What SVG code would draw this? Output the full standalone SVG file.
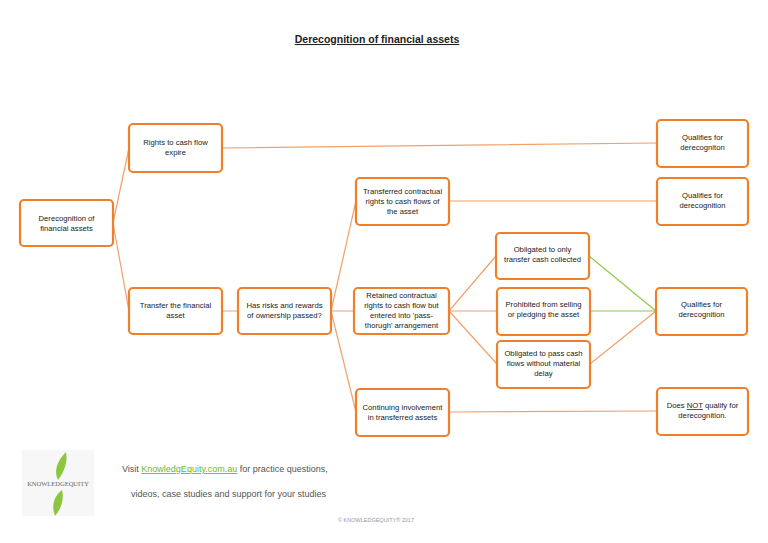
<svg xmlns="http://www.w3.org/2000/svg" width="768" height="543" viewBox="0 0 768 543">
<style>
.b{fill:#fff;stroke:#f07f2c;stroke-width:2.2}
.t{font-family:"Liberation Sans",Arial,sans-serif;font-size:7.7px;fill:#222;text-anchor:middle}
.c{fill:none;stroke:#f4a06a;stroke-width:1.2}
.g{fill:none;stroke:#8fca4c;stroke-width:1.2}
.f{font-family:"Liberation Sans",Arial,sans-serif;font-size:9px;fill:#555}
</style>
<rect width="768" height="543" fill="#fff"/>
<text x="377" y="43" font-family="Liberation Sans,Arial,sans-serif" font-size="10.5" font-weight="bold" fill="#222" text-anchor="middle" text-decoration="underline">Derecognition of financial assets</text>
<g id="connectors">
<path class="c" d="M113 223 L129 148 M113 223 L129 311 M222 148 L657 143 M222 311 L238 311 M331 311 L356 201 M331 311 L354 311 M331 311 L356 412 M449 201 L657 201 M449 311 L496 256 M449 311 L497 311 M449 311 L497 364 M590 364 L656 311 M449 412 L657 411"/>
<path class="g" d="M589 256 L656 311 M590 311 L656 311"/>
</g>
<g id="root"><rect class="b" x="20" y="200" width="93" height="46" rx="4"/><text class="t" x="66.5" y="221">Derecognition of</text><text class="t" x="66.5" y="231">financial assets</text></g>
<g id="rights"><rect class="b" x="129" y="124" width="93" height="48" rx="4"/><text class="t" x="175.5" y="145">Rights to cash flow</text><text class="t" x="175.5" y="155">expire</text></g>
<g id="transfer"><rect class="b" x="129" y="288" width="93" height="46" rx="4"/><text class="t" x="175.5" y="308">Transfer the financial</text><text class="t" x="175.5" y="318">asset</text></g>
<g id="risks"><rect class="b" x="238" y="288" width="93" height="46" rx="4"/><text class="t" x="284.5" y="308">Has risks and rewards</text><text class="t" x="284.5" y="318">of ownership passed?</text></g>
<g id="transferred"><rect class="b" x="356" y="178" width="93" height="47" rx="4"/><text class="t" x="402.5" y="194">Transferred contractual</text><text class="t" x="402.5" y="204">rights to cash flows of</text><text class="t" x="402.5" y="214">the asset</text></g>
<g id="retained"><rect class="b" x="354" y="288" width="95" height="46" rx="4"/><text class="t" x="401.5" y="298">Retained contractual</text><text class="t" x="401.5" y="308">rights to cash flow but</text><text class="t" x="401.5" y="318">entered into 'pass-</text><text class="t" x="401.5" y="328">thorugh' arrangement</text></g>
<g id="continuing"><rect class="b" x="356" y="389" width="93" height="47" rx="4"/><text class="t" x="402.5" y="410">Continuing involvement</text><text class="t" x="402.5" y="420">in transferred assets</text></g>
<g id="oblonly"><rect class="b" x="496" y="233" width="93" height="46" rx="4"/><text class="t" x="542.5" y="252">Obligated to only</text><text class="t" x="542.5" y="262">transfer cash collected</text></g>
<g id="prohib"><rect class="b" x="497" y="288" width="93" height="47" rx="4"/><text class="t" x="543.5" y="307">Prohibited from selling</text><text class="t" x="543.5" y="317">or pledging the asset</text></g>
<g id="oblpass"><rect class="b" x="497" y="341" width="93" height="47" rx="4"/><text class="t" x="543.5" y="356">Obligated to pass cash</text><text class="t" x="543.5" y="366">flows without material</text><text class="t" x="543.5" y="376">delay</text></g>
<g id="q1"><rect class="b" x="657" y="120" width="91" height="47" rx="4"/><text class="t" x="702.5" y="140">Qualifies for</text><text class="t" x="702.5" y="150">derecogniton</text></g>
<g id="q2"><rect class="b" x="657" y="178" width="91" height="47" rx="4"/><text class="t" x="702.5" y="198">Qualifies for</text><text class="t" x="702.5" y="208">derecognition</text></g>
<g id="q3"><rect class="b" x="656" y="288" width="91" height="47" rx="4"/><text class="t" x="701.5" y="307">Qualifies for</text><text class="t" x="701.5" y="317">derecognition</text></g>
<g id="notq"><rect class="b" x="657" y="388" width="91" height="47" rx="4"/><text class="t" x="702.5" y="408">Does <tspan text-decoration="underline">NOT</tspan> qualify for</text><text class="t" x="702.5" y="418">derecognition.</text></g>
<g id="logo">
<rect x="22" y="450" width="72" height="66" fill="#f7f7f7"/>
<path d="M66 452 C56 462 54 472 58 480 C64 472 68 462 66 452Z" fill="#8cc63f"/>
<path d="M62 490 C52 498 52 508 55 516 C62 508 64 498 62 490Z" fill="#8cc63f"/>
<text x="58" y="486" font-family="Liberation Serif,serif" font-size="6.5" fill="#666" text-anchor="middle">KNOWLEDGEQUITY</text>
</g>
<text class="f" x="122" y="472">Visit <tspan fill="#6ab92d" text-decoration="underline">KnowledgEquity.com.au</tspan> for practice questions,</text>
<text class="f" x="131" y="497">videos, case studies and support for your studies</text>
<text x="376" y="522" font-family="Liberation Sans,Arial,sans-serif" font-size="5.5" fill="#999" text-anchor="middle">© KNOWLEDGEQUITY® 2017</text>
</svg>
